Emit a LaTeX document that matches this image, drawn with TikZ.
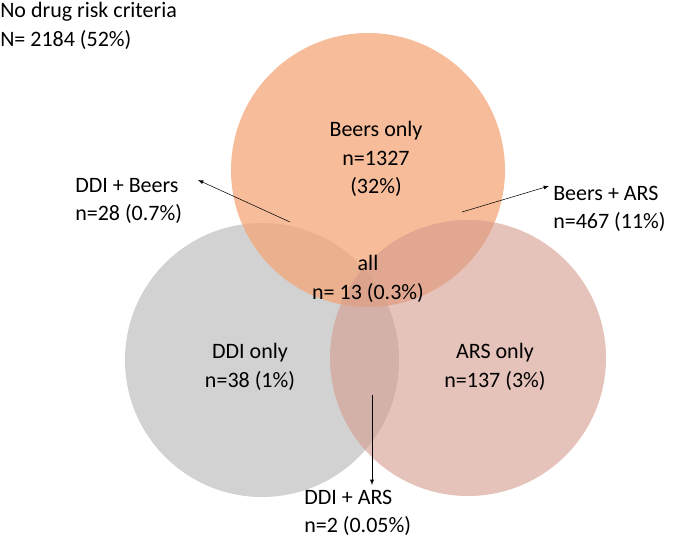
\documentclass[tikz,border=0pt]{standalone}
\usepackage{fontspec}
\setmainfont{Carlito}
\begin{document}
\begin{tikzpicture}[x=0.75pt,y=-0.75pt,
  lbl/.style={font=\fontsize{16.5}{21.5}\selectfont,align=center,inner sep=0pt},
  lblL/.style={lbl,align=left,anchor=west},
  arr/.style={-latex,thin}]
\useasboundingbox (0,0) rectangle (685,547);
\definecolor{cddi}{HTML}{BFBFBF}
\definecolor{cbeers}{HTML}{F4A677}
\definecolor{cars}{HTML}{D49A8C}
\fill[fill=cddi,opacity=0.7] (262,360) circle (137);
\fill[fill=cbeers,opacity=0.75] (368,170) circle (137);
\fill[fill=cars,opacity=0.6] (468,358) circle (138);
\node[lblL,anchor=north west] (none) at (0,2) {No drug risk criteria\\N= 2184 (52\%)};
\node[lbl] (beers) at (376,159) {Beers only\\n=1327\\(32\%)};
\node[lbl] (all) at (368,279) {all\\n= 13 (0.3\%)};
\node[lbl] (ddi) at (250,367) {DDI only\\n=38 (1\%)};
\node[lbl] (ars) at (495,367) {ARS only\\n=137 (3\%)};
\node[lblL] (db) at (75,201) {DDI + Beers\\n=28 (0.7\%)};
\node[lblL] (ba) at (553,209) {Beers + ARS\\n=467 (11\%)};
\node[lblL] (da) at (304,513) {DDI + ARS\\n=2 (0.05\%)};
\coordinate (p1) at (290,222);
\coordinate (p2) at (462,212);
\coordinate (p3) at (372,395);
\coordinate (q1) at (198,180);
\coordinate (q2) at (549,186);
\coordinate (q3) at (372,485);
\draw[arr] (p1) -- (q1);
\draw[arr] (p2) -- (q2);
\draw[arr] (p3) -- (q3);
\end{tikzpicture}
\end{document}
